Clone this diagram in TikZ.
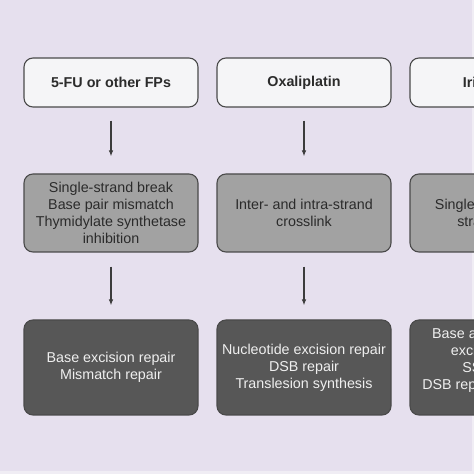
\documentclass[tikz,border=0pt]{standalone}
\usepackage{fontspec}
\setmainfont{Liberation Sans}
\usetikzlibrary{arrows.meta}
\definecolor{bgouter}{HTML}{F0EDF4}
\definecolor{bgpurple}{HTML}{E6E0EE}
\definecolor{boxline}{HTML}{4A4A4A}
\definecolor{drugfill}{HTML}{F5F5F7}
\definecolor{damagefill}{HTML}{A2A2A2}
\definecolor{repairfill}{HTML}{575757}
\definecolor{darktext}{HTML}{2B2B2B}
\definecolor{lighttext}{HTML}{EFEFEF}
\definecolor{arrowcol}{HTML}{3C3C3C}

\begin{document}
\begin{tikzpicture}[x=1pt,y=1pt,
  box/.style={draw=boxline, line width=1.1pt, rounded corners=9pt,
    minimum width=174pt, inner sep=0pt, align=center,
    font=\fontsize{14.3}{17}\selectfont},
  drug/.style={box, fill=drugfill, text=darktext, minimum height=49pt,
    font=\bfseries\fontsize{14.3}{17}\selectfont},
  damage/.style={box, fill=damagefill, text=darktext, minimum height=78pt},
  repair/.style={box, fill=repairfill, text=lighttext, minimum height=95pt},
  flow/.style={-{Latex[length=6pt,width=4.5pt]}, line width=1.1pt, draw=arrowcol}]
\useasboundingbox (0,0) rectangle (474,474);
\clip (0,0) rectangle (474,474);
\fill[bgouter] (0,0) rectangle (474,474);
\fill[bgpurple] (0,2.5) rectangle (471.5,474);

% drugs
\node[drug] (fu) at (111,391.5) {5-FU or other FPs};
\node[drug] (oxa) at (304,391.5) {Oxaliplatin};
\node[drug] (iri) at (497,391.5) {Irinotecan};

% DNA damage
\node[damage] (fudmg) at (111,261) {Single-strand break\\Base pair mismatch\\Thymidylate synthetase\\inhibition};
\node[damage] (oxadmg) at (304,261) {Inter- and intra-strand\\crosslink};
\node[damage] (iridmg) at (497,261) {Single- and double-\\strand break};

% repair pathways
\node[repair] (furep) at (111,106.5) {Base excision repair\\Mismatch repair};
\node[repair] (oxarep) at (304,106.5) {Nucleotide excision repair\\DSB repair\\Translesion synthesis};
\node[repair] (irirep) at (497,106.5) {Base and nucleotide\\excision repair\\SSB repair\\DSB repair (HR, NHEJ)\\~};

% arrows
\draw[flow, shorten <=13pt, shorten >=17pt] (fu.south) -- (fudmg.north);
\draw[flow, shorten <=13pt, shorten >=17pt] (oxa.south) -- (oxadmg.north);
\draw[flow, shorten <=14pt, shorten >=14pt] (fudmg.south) -- (furep.north);
\draw[flow, shorten <=14pt, shorten >=14pt] (oxadmg.south) -- (oxarep.north);
\end{tikzpicture}
\end{document}
